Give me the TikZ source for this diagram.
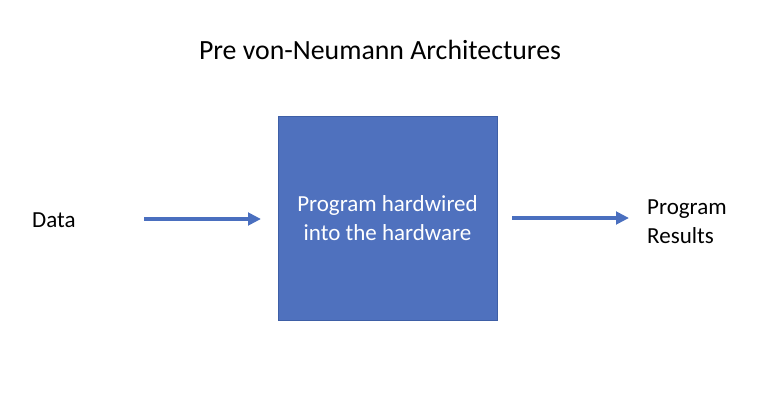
\documentclass[tikz,border=0pt]{standalone}
\usepackage{fontspec}
\setmainfont{Carlito}
\usetikzlibrary{arrows.meta}
\definecolor{boxblue}{HTML}{4F71BE}
\definecolor{boxedge}{HTML}{3E5FA6}
\definecolor{arrowblue}{HTML}{4A6FBF}
\tikzset{
  flow/.style={draw=arrowblue, line width=3.6pt, -{Triangle[length=13pt,width=12.5pt]}},
  label/.style={text=black, font=\fontsize{23}{29}\selectfont, align=left},
}
\begin{document}
\begin{tikzpicture}[x=1pt,y=-1pt]
\useasboundingbox (0,0) rectangle (768,407);
\node[font=\fontsize{27.8}{32}\selectfont, anchor=base] (title) at (380,59) {Pre von-Neumann Architectures};
\node[draw=boxedge, line width=0.8pt, fill=boxblue, minimum width=219pt, minimum height=204pt, inner sep=0pt,
      text=white, font=\fontsize{23}{29}\selectfont, align=center] (box) at (387.5,218) {Program hardwired\\into the hardware};
\node[label, anchor=base west, inner sep=0pt] (data) at (32,227.7) {Data};
\node[label, anchor=west, inner sep=0pt] (res) at (647,221.5) {Program\\Results};
\coordinate (a1) at (144,219);
\coordinate (a2) at (261,219);
\coordinate (b1) at (512,218);
\coordinate (b2) at (629,218);
\draw[flow] (a1) -- (a2);
\draw[flow] (b1) -- (b2);
\end{tikzpicture}
\end{document}
